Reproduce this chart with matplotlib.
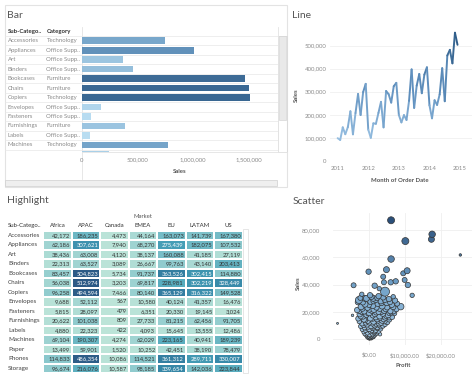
import matplotlib
matplotlib.use('Agg')
import matplotlib.pyplot as plt
import numpy as np
from matplotlib.colors import LinearSegmentedColormap, Normalize
from matplotlib.collections import LineCollection
from matplotlib.patches import Rectangle
from matplotlib.ticker import FuncFormatter

plt.rcParams['font.family'] = ['Lato', 'DejaVu Sans']

# ---- data ----
sub_categories = ['Accessories', 'Appliances', 'Art', 'Binders', 'Bookcases', 'Chairs',
                  'Copiers', 'Envelopes', 'Fasteners', 'Furnishings', 'Labels', 'Machines',
                  'Paper', 'Phones', 'Storage']
categories = ['Technology', 'Office Supp..', 'Office Supp..', 'Office Supp..', 'Furniture',
              'Furniture', 'Technology', 'Office Supp..', 'Office Supp..', 'Furniture',
              'Office Supp..', 'Technology', 'Office Supp..', 'Technology', 'Office Supp..']
bar_sales = [749236, 1011063, 372093, 461912, 1466572, 1501681, 1509437, 170904,
             83241, 385578, 73404, 779059, 244292, 1706824, 1127056]

markets = ['Africa', 'APAC', 'Canada', 'EMEA', 'EU', 'LATAM', 'US']
sales_africa = [42172, 62186, 38436, 22313, 83457, 56038, 96258, 9688, 5815, 20622, 4880, 69104, 13499, 114833, 96674]
sales_apac = [186235, 307621, 63008, 63527, 504823, 512974, 494594, 52112, 28097, 101038, 22323, 190307, 59901, 486354, 216076]
sales_canada = [4473, 7940, 4120, 3089, 5734, 3203, 7466, 567, 479, 809, 422, 4274, 1520, 10086, 10587]
sales_emea = [44164, 68270, 38137, 26667, 91737, 69817, 80140, 10580, 6351, 27733, 4093, 62029, 10252, 114521, 98185]
sales_eu = [163073, 275439, 160088, 99763, 363526, 228981, 365129, 40124, 20330, 81215, 15645, 223165, 42451, 361312, 339654]
sales_latam = [141739, 182075, 41185, 43140, 302415, 302219, 316322, 41357, 19145, 62456, 13555, 40941, 38190, 289711, 142036]
sales_us = [167380, 107532, 27119, 203413, 114880, 328449, 149528, 16476, 3024, 91705, 12486, 189239, 78479, 330007, 223844]

years = [2011, 2012, 2013, 2014]
monthly_2011 = [98900, 91200, 145700, 116000, 146700, 215200, 115500, 207600, 290200, 199100, 298500, 334000]
monthly_2012 = [135800, 100500, 163100, 161100, 208400, 256200, 145600, 303100, 289000, 252900, 323600, 338300]
monthly_2013 = [199200, 167200, 198600, 177800, 260500, 396500, 229900, 326500, 376600, 293400, 373900, 405500]
monthly_2014 = [241300, 184800, 263100, 242800, 288400, 401800, 258700, 456600, 481200, 422800, 555300, 503100]

# scatter: profit, sales, quantity per product
scatter_profit = [6100, 17600, 17400, 10100, 25500, 6100, -200, 4800, 10600, 9500, -4400, 3900,
                  4100, 6000, 7400, 9900, 10800, 1500, 4400, 12000, -2900, -4700, -8900, -2100,
                  8800, 6700, 2800,
                  0, 400, -300, 800, -600, 200, 1100, -200, 600,
                  -900, 1500, 100, -1300, 900, 2000, -500, 1400, -1600,
                  400, 2600, -1000, 1800, -2000, 0, 3100, 1000, -1300, 2300,
                  -2400, 500, 3800, 1600, -600, 4400, -2000, 2800, 0, 5000, -2800, 1200,
                  3600, -1200, 5600, 2200, -3100, 300, 4500, 6400, -1800, 2900, 1000, 5300,
                  -2700, 3800, 7000, 0, 2000, -1400, 5900, 4200, -3400, 1300, 7600, 2900, -500, 5000,
                  -2300, 3600, 1000, 6300, -1200, 2400, 4900, -3200, 400, 3200, 7200, 1800,
                  5500, -800, 1100, 3900, -1200, 2600, 200,
                  300, 1800, -800, 700, -300, 2700, 900, -1000, 3300, 4000, 1800, -800, 3300,
                  6200, 700, -2100,
                  100, 200, -100, 500, 300, -400, 1000, 600, -200, 1300,
                  -1500, 900, 3000, -2400, 4800, 1600, -300, 5600, 2600, -2800, 4600, 0,
                  -1900, 6700, 2000, -100, 3400, 5800, 1200, -1800, 4400, 2200, 600, -2500,
                  -400, 2500, 4300, 1800, -1600, 3200, 900, -500, 1500, 2200, 5600, 6800,
                  7800, 3000]
scatter_sales = [87300, 77000, 73300, 72000, 61800, 58800, 49500, 51000, 50200, 48300, 39500, 45800,
                 41700, 41700, 42400, 43400, 39700, 39200, 34800, 32100, 28700, 17400, 11500, 32900,
                 23800, 31100, 37000,
                 300, 500, 600, 1000, 1200, 1400, 1700, 2000, 2200,
                 2700, 2900, 3200, 3600, 3800, 4200, 4500, 4900, 5000,
                 5600, 5800, 6300, 6700, 7000, 7400, 7600, 8000, 8500, 8800,
                 9300, 9500, 9800, 10300, 10700, 11000, 11400, 11700, 12200, 12500, 12800, 13000,
                 13500, 13900, 14300, 14800, 15000, 15400, 15800, 16200, 16500, 16900, 17400, 17800,
                 18200, 18600, 18900, 19300, 19800, 20300, 20500, 21000, 21300, 21700, 22000, 22500, 22900, 23300,
                 23700, 24200, 24600, 25100, 25600, 26100, 26700, 27100, 27500, 28000, 28300, 29000,
                 29400, 29900, 29900, 30600, 29900, 31500, 32200,
                 1800, 3400, 3100, 6200, 9000, 10500, 11500, 12000, 12000, 14600, 16000, 17800, 19900,
                 19500, 20800, 19800,
                 100, 800, 400, 1300, 2500, 1600, 2400, 200, 1000, 1200,
                 14200, 15000, 15500, 16600, 17000, 18300, 18800, 19000, 20000, 20600, 22000, 21500,
                 22200, 23500, 23200, 25000, 26500, 27000, 27800, 26800, 28800, 30200, 31000, 30200,
                 13200, 13400, 13000, 11200, 10000, 9000, 8800, 7200, 5400, 7800, 15800, 20300,
                 26000, 3500]
scatter_quantity = [102, 88, 75, 102, 13, 88, 60, 75, 75, 52, 52, 52,
                    52, 60, 60, 52, 60, 60, 168, 40, 102, 13, 8, 40,
                    88, 40, 40,
                    19, 19, 19, 25, 19, 33, 25, 25, 33,
                    25, 33, 40, 25, 40, 33, 40, 52, 25,
                    52, 40, 40, 52, 33, 60, 52, 52, 52, 60,
                    40, 60, 52, 75, 60, 52, 52, 75, 60, 60, 40, 75,
                    60, 60, 52, 75, 52, 75, 60, 52, 60, 75, 60, 75,
                    60, 60, 52, 75, 75, 60, 60, 75, 60, 75, 60, 75, 60, 60,
                    75, 75, 75, 60, 75, 75, 75, 60, 75, 75, 60, 75,
                    60, 75, 75, 60, 75, 60, 60,
                    25, 25, 19, 40, 52, 52, 60, 52, 60, 60, 60, 60, 60,
                    52, 60, 52,
                    13, 13, 13, 13, 19, 13, 19, 13, 13, 13,
                    52, 60, 52, 52, 60, 60, 52, 52, 60, 52, 60, 52,
                    52, 60, 60, 52, 60, 52, 60, 52, 60, 52, 60, 52,
                    52, 52, 52, 52, 40, 40, 40, 33, 33, 40, 52, 52,
                    52, 25]

# ---- setup ----
W, H = 474, 379
fig = plt.figure(figsize=(W / 100, H / 100), dpi=100)
ov = fig.add_axes([0, 0, 1, 1], zorder=0)
ov.set_xlim(0, W)
ov.set_ylim(H, 0)
ov.axis('off')


def px_axes(x0, y0, x1, y1):
    a = fig.add_axes([x0 / W, 1 - y1 / H, (x1 - x0) / W, (y1 - y0) / H], zorder=1)
    a.set_facecolor('none')
    for s in a.spines.values():
        s.set_visible(False)
    return a


blue_cmap = LinearSegmentedColormap.from_list('tab_blue', ['#b9ddf1', '#6a9bc3', '#2a5783'])
line_cmap = LinearSegmentedColormap.from_list('line_blue', ['#98c0e2', '#5f8fbd', '#2a5783'])
dot_cmap = LinearSegmentedColormap.from_list('dot_blue', ['#a6cbe8', '#6a9bc3', '#2a4f7a'])
teal_cmap = LinearSegmentedColormap.from_list(
    'tab_blue_teal', ['#bce4d8', '#95cecf', '#72bac6', '#4ba5ba', '#3586a7', '#2f6790', '#2c5985'])

title_kw = dict(fontsize=7.5, color='#555555', va='center')
small = 4.3
tick_col = '#8c8c8c'
axis_title_kw = dict(fontsize=small, color='#555555', weight='bold', ha='center', va='center')

# ---- Bar panel ----
ov.add_patch(Rectangle((5, 4.5), 282, 182, fill=False, ec='#e3e3e3', lw=0.8))
ov.text(7.5, 15, 'Bar', **title_kw)
ov.text(8, 31.5, 'Sub-Catego..', fontsize=small, color='#333333', weight='bold', va='center')
ov.text(46.5, 31.5, 'Category', fontsize=small, color='#333333', weight='bold', va='center')

row_h = 9.48
top_y = 35.9
rows_visible = (152 - top_y) / row_h

lab = px_axes(5, top_y, 82, 152)
lab.set_xlim(5, 82)
lab.set_ylim(-0.5 + rows_visible, -0.5)
lab.set_xticks([])
lab.set_yticks([])
for i, (sc, cat) in enumerate(zip(sub_categories, categories)):
    lab.text(8, i, sc, fontsize=small, color='#8a8a8a', va='center', clip_on=True)
    lab.text(46.5, i, cat, fontsize=small, color='#8a8a8a', va='center', clip_on=True)
for i in range(len(sub_categories) + 1):
    lab.axhline(i - 0.5, color='#e8e8e8', lw=0.5)

axb = px_axes(82, top_y, 278, 152)
bnorm = Normalize(min(bar_sales), max(bar_sales))
axb.barh(np.arange(len(bar_sales)), bar_sales, height=0.72, color=blue_cmap(bnorm(bar_sales)))
axb.set_ylim(-0.5 + rows_visible, -0.5)
axb.set_xlim(0, 1765766)
for i in range(len(sub_categories) + 1):
    axb.axhline(i - 0.5, color='#e8e8e8', lw=0.5, zorder=0)
axb.set_yticks([])
axb.set_xticks([0, 500000, 1000000, 1500000])
axb.xaxis.set_major_formatter(FuncFormatter(lambda v, p: f'{int(v):,}'))
axb.tick_params(axis='x', length=0, pad=4, labelsize=small, labelcolor=tick_col)
ov.text(180, 171.7, 'Sales', **axis_title_kw)

ov.plot([82, 82], [27, 179], color='#e3e3e3', lw=0.6)
ov.plot([278, 278], [27, 152], color='#e3e3e3', lw=0.6)
ov.plot([82, 287], [152, 152], color='#e3e3e3', lw=0.6)
ov.add_patch(Rectangle((278, 35.5), 9, 116.5, fill=False, ec='#d8d8d8', lw=0.5))
ov.add_patch(Rectangle((279, 36), 7.5, 84, fc='#e9e9e9', ec='#d0d0d0', lw=0.4))
ov.add_patch(Rectangle((5.5, 179.5), 272, 6, fc='#efefef', ec='#cfcfcf', lw=0.5))

# ---- Line panel ----
ov.text(291.7, 15, 'Line', **title_kw)
axl = px_axes(330, 28, 472, 161)
monthly = np.concatenate([monthly_2011, monthly_2012, monthly_2013, monthly_2014])
month_x = years[0] + np.arange(len(monthly)) / 12
pts = np.column_stack([month_x, monthly]).reshape(-1, 1, 2)
segs = np.concatenate([pts[:-1], pts[1:]], axis=1)
lc = LineCollection(segs, cmap=line_cmap, norm=Normalize(monthly.min(), monthly.max()),
                    linewidth=1.4, capstyle='round', joinstyle='round', antialiased=True)
lc.set_array((monthly[:-1] + monthly[1:]) / 2)
axl.add_collection(lc)
axl.set_xlim(2010.75, 2015.39)
axl.set_ylim(0, 575800)
axl.set_xticks([2011, 2012, 2013, 2014, 2015])
axl.set_yticks([0, 100000, 200000, 300000, 400000, 500000])
axl.yaxis.set_major_formatter(FuncFormatter(lambda v, p: f'{int(v):,}'))
axl.tick_params(length=0, labelsize=small, labelcolor=tick_col)
axl.tick_params(axis='x', pad=3.5)
axl.tick_params(axis='y', pad=2.4)
axl.grid(axis='y', color='#f0f0f0', lw=0.6)
axl.set_axisbelow(True)
ov.text(296.7, 95, 'Sales', rotation=90, **axis_title_kw)
ov.text(400, 180, 'Month of Order Date', **axis_title_kw)

# ---- Highlight panel ----
ov.text(7.3, 200.7, 'Highlight', **title_kw)
heat = np.column_stack([sales_africa, sales_apac, sales_canada, sales_emea,
                        sales_eu, sales_latam, sales_us])
hx0, hx1 = 43.3, 242.8
hy0 = 230.55
hrow = 9.5
hy1 = hy0 + hrow * len(sub_categories)
col_w = (hx1 - hx0) / len(markets)
ov.text((hx0 + hx1) / 2, 216, 'Market', fontsize=small, color='#555555', ha='center', va='center')
ov.text(8, 225.7, 'Sub-Catego..', fontsize=small, color='#333333', va='center')
for j, m in enumerate(markets):
    ov.text(hx0 + col_w * (j + 0.5), 225.7, m, fontsize=small, color='#333333',
            ha='center', va='center')
for i, sc in enumerate(sub_categories):
    ov.text(8, hy0 + hrow * (i + 0.5), sc, fontsize=4.5, color='#444444', va='center')

axh = px_axes(hx0, hy0, hx1, hy1)
hnorm = Normalize(heat.min(), heat.max())
axh.pcolormesh(np.arange(len(markets) + 1), np.arange(len(sub_categories) + 1), heat,
               cmap=teal_cmap, norm=hnorm, edgecolors='#ffffff', linewidth=0.25)
axh.set_xlim(0, len(markets))
axh.set_ylim(len(sub_categories), 0)
axh.set_xticks([])
axh.set_yticks([])
for i in range(heat.shape[0]):
    for j in range(heat.shape[1]):
        v = heat[i, j]
        axh.text(j + 0.93, i + 0.5, f'{v:,}', ha='right', va='center', fontsize=4.2,
                 color='#ffffff' if v > 250000 else '#333333')
ov.add_patch(Rectangle((hx1, 229), 5.5, hy1 - 229, fill=False, ec='#dcdcdc', lw=0.5))

# ---- Scatter panel ----
ov.text(292.7, 201, 'Scatter', **title_kw)
axs = px_axes(333, 213, 472, 345)
sp = np.array(scatter_profit)
ss = np.array(scatter_sales)
sq = np.array(scatter_quantity)
order = np.argsort(ss)
axs.scatter(sp[order], ss[order], s=sq[order] * 0.25, c=ss[order], cmap=dot_cmap,
            norm=Normalize(0, ss.max()), edgecolors='#333333', linewidths=0.5, zorder=3)
axs.set_xlim(-10168, 28767)
axs.set_ylim(-4412, 92647)
axs.set_xticks([0, 10000, 20000])
axs.set_yticks([0, 20000, 40000, 60000, 80000])
axs.xaxis.set_major_formatter(FuncFormatter(lambda v, p: f'${v:,.2f}'))
axs.yaxis.set_major_formatter(FuncFormatter(lambda v, p: f'{int(v):,}'))
axs.tick_params(length=0, labelsize=small, labelcolor=tick_col)
axs.tick_params(axis='x', pad=5)
axs.tick_params(axis='y', pad=9)
axs.grid(color='#efefef', lw=0.6)
axs.set_axisbelow(True)
ov.text(298.3, 283.3, 'Sales', rotation=90, **axis_title_kw)
ov.text(403.3, 365.7, 'Profit', **axis_title_kw)

fig.savefig('out.png', dpi=100)
